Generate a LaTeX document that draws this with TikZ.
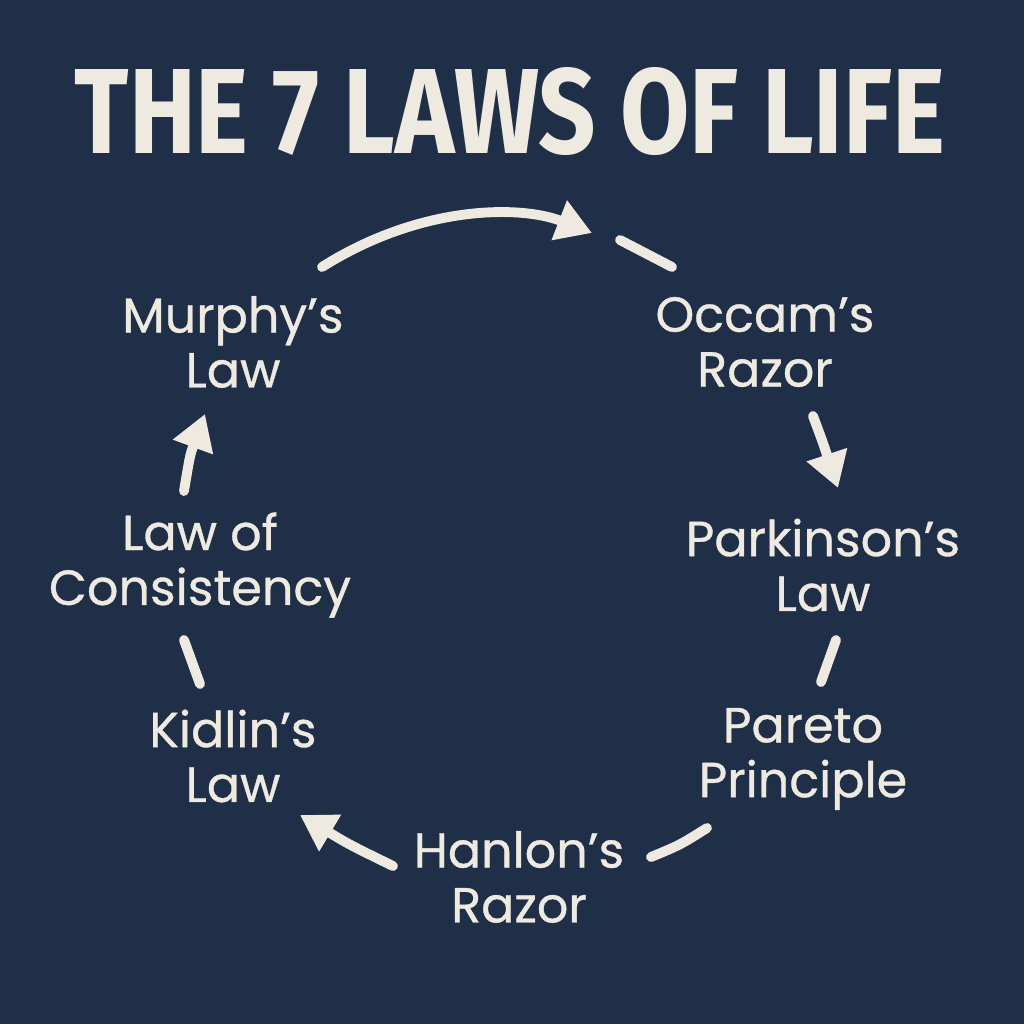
\documentclass[tikz,border=0pt]{standalone}
\usepackage{fontspec}
\usepackage{graphicx}
\usetikzlibrary{arrows.meta}
\newfontfamily\labelfont{Poppins}[FakeBold=0.7]
\newfontfamily\titlefont{Fira Sans}
\definecolor{navy}{RGB}{31,47,71}
\definecolor{cream}{RGB}{238,234,224}

\begin{document}
\begin{tikzpicture}[x=0.01cm, y=-0.01cm,
    law/.style={text=cream, align=center, inner sep=0pt,
        font=\labelfont\fontsize{14}{15.6}\selectfont},
    link/.style={cream, line width=2.8pt, line cap=round},
    tip/.style={-{Triangle[length=10pt, width=11.5pt]}}]
    \fill[navy] (0,0) rectangle (1024,1024);

    \node[text=cream, inner sep=0pt] (title) at (510,112)
        {\resizebox{8.7cm}{0.86cm}{\titlefont\bfseries THE 7 LAWS OF LIFE}};

    % the seven laws
    \node[law] (murphy) at (233,342) {Murphy’s\\Law};
    \node[law] (occam) at (765,342) {Occam’s\\Razor};
    \node[law] (parkinson) at (823,565) {Parkinson’s\\Law};
    \node[law] (pareto) at (803,759) {Pareto\\Principle};
    \node[law] (hanlon) at (519,877) {Hanlon’s\\Razor};
    \node[law] (kidlin) at (233,756) {Kidlin’s\\Law};
    \node[law] (consistency) at (200,565) {Law of\\Consistency};

    % ends of the connectors
    \coordinate (murphy-out) at (322,267);
    \coordinate (occam-in) at (592,233);
    \coordinate (occam-dash) at (620,240);
    \coordinate (occam-dashend) at (672,267);
    \coordinate (occam-out) at (813,416);
    \coordinate (parkinson-in) at (838,488);
    \coordinate (parkinson-out) at (836,640);
    \coordinate (pareto-in) at (821,682);
    \coordinate (pareto-out) at (707,828);
    \coordinate (hanlon-in) at (651,857);
    \coordinate (hanlon-out) at (393,866);
    \coordinate (kidlin-in) at (300,815);
    \coordinate (kidlin-out) at (200,684);
    \coordinate (consistency-in) at (184,640);
    \coordinate (consistency-out) at (184,491);
    \coordinate (murphy-in) at (205,414);

    \draw[link, tip] (murphy-out) .. controls (420,205) and (520,205) .. (occam-in);
    \draw[link] (occam-dash) -- (occam-dashend);
    \draw[link, tip] (occam-out) .. controls (822,440) .. (parkinson-in);
    \draw[link] (parkinson-out) -- (pareto-in);
    \draw[link] (pareto-out) .. controls (680,845) .. (hanlon-in);
    \draw[link, tip] (hanlon-out) .. controls (350,845) .. (kidlin-in);
    \draw[link] (kidlin-out) -- (consistency-in);
    \draw[link, tip] (consistency-out) .. controls (190,455) .. (murphy-in);
\end{tikzpicture}
\end{document}
